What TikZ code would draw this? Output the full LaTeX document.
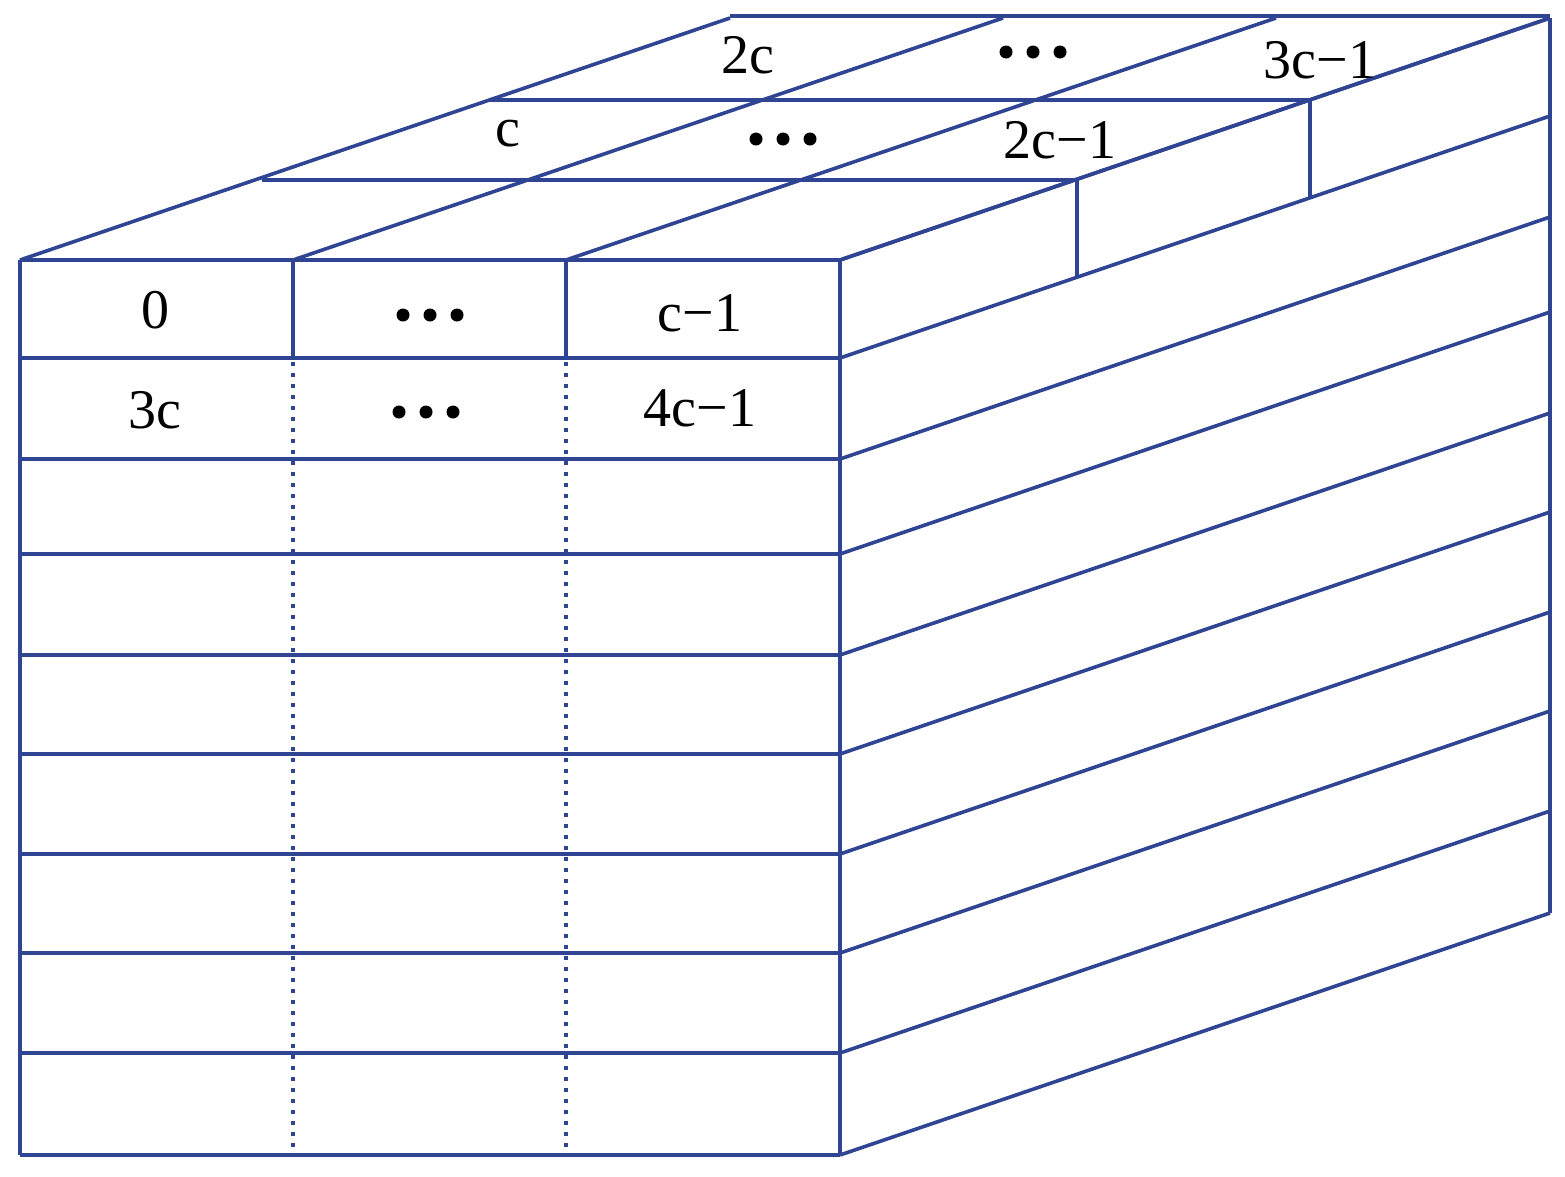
\documentclass[tikz,border=0pt]{standalone}
\usepackage{fontspec}
\setmainfont{Liberation Serif}
\definecolor{ln}{RGB}{48,68,148}
\begin{document}
\begin{tikzpicture}[x=1pt,y=-1pt,line width=3.6pt,
  lab/.style={font=\fontsize{56}{60}\selectfont,text=black,inner sep=0},
  dotsym/.pic={\foreach \i in {-1,0,1} \fill[black] (\i*27,0) circle (6.5);}]
\useasboundingbox (0,0) rectangle (1565,1176);
% front face
\foreach \y in {260,358,459,554,655,754,854,953,1053,1155}
  \draw[ln] (20,\y) -- (840,\y);
\draw[ln] (20,260) -- (20,1155);
\draw[ln] (840,260) -- (840,1155);
\foreach \x in {293,566}{
  \draw[ln,line width=4pt] (\x,260) -- (\x,358);
  \draw[ln,line width=4pt,dash pattern=on 4pt off 7pt] (\x,362) -- (\x,1155);}
% right face
\foreach \y in {260,358,459,554,655,754,854,953,1053,1155}
  \draw[ln] (840,\y) -- (1550,\y-242);
\draw[ln] (1550,18) -- (1550,913);
\draw[ln] (1077,180) -- (1077,278);
\draw[ln] (1310,100) -- (1310,198);
% top face
\draw[ln] (262,180) -- (1077,180);
\draw[ln] (490,100) -- (1310,100);
\draw[ln] (730,16) -- (1550,16);
\foreach \x in {20,293,566,840}
  \draw[ln] (\x,260) -- (\x+710,18);
% labels
\node[lab] at (155,310) {0};
\pic at (430,315) {dotsym};
\node[lab] at (700,313) {c−1};
\node[lab] at (155,410) {3c};
\pic at (426,412) {dotsym};
\node[lab] at (700,408) {4c−1};
\node[lab] at (508,134) {c};
\pic at (783,139) {dotsym};
\node[lab] at (1060,140) {2c−1};
\node[lab] at (748,55) {2c};
\pic at (1033,52) {dotsym};
\node[lab] at (1320,60) {3c−1};
\end{tikzpicture}
\end{document}
